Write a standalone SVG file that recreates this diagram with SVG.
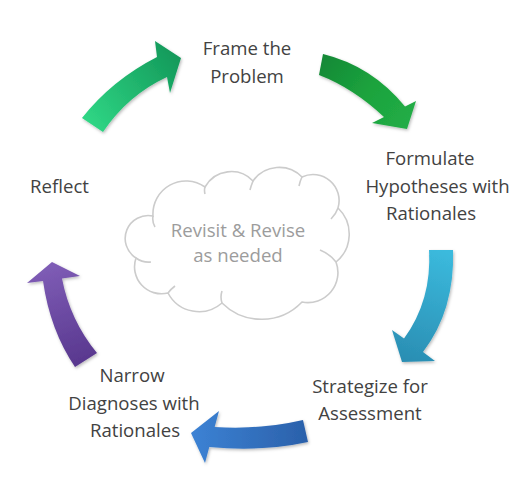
<svg xmlns="http://www.w3.org/2000/svg" width="524" height="480" viewBox="0 0 524 480">
<style>
.lbl{font-family:"Open Sans","Liberation Sans",sans-serif;font-size:18.6px;fill:#424242;text-anchor:middle}
.cl{font-family:"Open Sans","Liberation Sans",sans-serif;font-size:18.6px;fill:#9c9c9c;text-anchor:middle}
.cloud{fill:#ffffff;stroke:#cccccc;stroke-width:1.6}
.cloudin{fill:none;stroke:#cccccc;stroke-width:1.6}
.arr{filter:url(#sh)}
</style>
<defs>
<filter id="sh" x="-20%" y="-20%" width="140%" height="140%">
<feDropShadow dx="1" dy="1.5" stdDeviation="1.6" flood-color="#000" flood-opacity="0.28"/>
</filter>
<linearGradient id="g1" gradientUnits="userSpaceOnUse" x1="92" y1="125" x2="180" y2="58">
<stop offset="0" stop-color="#2fd584"/><stop offset="1" stop-color="#13995a"/>
</linearGradient>
<linearGradient id="g2" gradientUnits="userSpaceOnUse" x1="321" y1="64" x2="408" y2="128">
<stop offset="0" stop-color="#138a37"/><stop offset="0.5" stop-color="#1ca33d"/><stop offset="1" stop-color="#22ad47"/>
</linearGradient>
<linearGradient id="g3" gradientUnits="userSpaceOnUse" x1="441" y1="250" x2="402" y2="362">
<stop offset="0" stop-color="#3bbadd"/><stop offset="1" stop-color="#2a8db2"/>
</linearGradient>
<linearGradient id="g4" gradientUnits="userSpaceOnUse" x1="305" y1="431" x2="192" y2="433">
<stop offset="0" stop-color="#2b61ab"/><stop offset="1" stop-color="#3c82d4"/>
</linearGradient>
<linearGradient id="g5" gradientUnits="userSpaceOnUse" x1="86" y1="360" x2="52" y2="263">
<stop offset="0" stop-color="#59388f"/><stop offset="1" stop-color="#7f5db6"/>
</linearGradient>
</defs>
<rect width="524" height="480" fill="#ffffff"/>

<g id="connectors">
<path class="arr" fill="url(#g1)" d="M82,118 Q112,80 157,57 L155,41 L181,58 L170,93 L167,77 Q128,95 103,132 Z"/>
<path class="arr" fill="url(#g2)" d="M323,54 Q372,66 405,106.5 L416,101 L407,129 L372,123 L384,117 Q353,88 319,75 Z"/>
<path class="arr" fill="url(#g3)" d="M453,250 Q455,310 423,352 L435,361 L402,362 L392,330 L404,338.6 Q432,300 429,250 Z"/>
<path class="arr" fill="url(#g4)" d="M303,420 Q260,430 214.7,427 L219,411 L191,433 L205,463 L209.3,447 Q262,452 308,442 Z"/>
<path class="arr" fill="url(#g5)" d="M75,367 Q50,330 43,281 L27,283 L52,262 L80,276 L62,278.4 Q70,320 97,353 Z"/>
</g>

<g id="cloud">
<path class="cloud" d="M136,258 A23,23 0 0 1 153,216 A33,33 0 0 1 205,187 A30,30 0 0 1 253,181 A32,32 0 0 1 302,177 A26,26 0 0 1 338,208 A36,36 0 0 1 336,262 A30,30 0 0 1 302,302 A56,56 0 0 1 222,303 A35,35 0 0 1 168,293 A27,27 0 0 1 136,258 Z"/>
<path class="cloudin" d="M136,258 Q143,263 151,262 M153,216 Q152,222 155,227 M205,187 Q204,190 205,194 M253,181 Q251,186 250,190 M302,177 Q300,181 299,186 M338,208 Q336,214 331,219 M336,262 Q330,254 320,250 M222,303 Q220,297 222,291 M168,293 Q171,289 175,286"/>
<text class="cl" x="238" y="237">Revisit &amp; Revise</text>
<text class="cl" x="238" y="262">as needed</text>
</g>

<g id="node-frame">
<text class="lbl" x="247" y="55">Frame the</text>
<text class="lbl" x="247" y="82.5">Problem</text>
</g>
<g id="node-formulate">
<text class="lbl" x="430" y="165">Formulate</text>
<text class="lbl" x="437.5" y="192.5">Hypotheses with</text>
<text class="lbl" x="431" y="220">Rationales</text>
</g>
<g id="node-strategize">
<text class="lbl" x="370" y="393">Strategize for</text>
<text class="lbl" x="370" y="420">Assessment</text>
</g>
<g id="node-narrow">
<text class="lbl" x="132" y="382">Narrow</text>
<text class="lbl" x="134" y="410">Diagnoses with</text>
<text class="lbl" x="135" y="437">Rationales</text>
</g>
<g id="node-reflect">
<text class="lbl" x="59.5" y="193">Reflect</text>
</g>
</svg>
